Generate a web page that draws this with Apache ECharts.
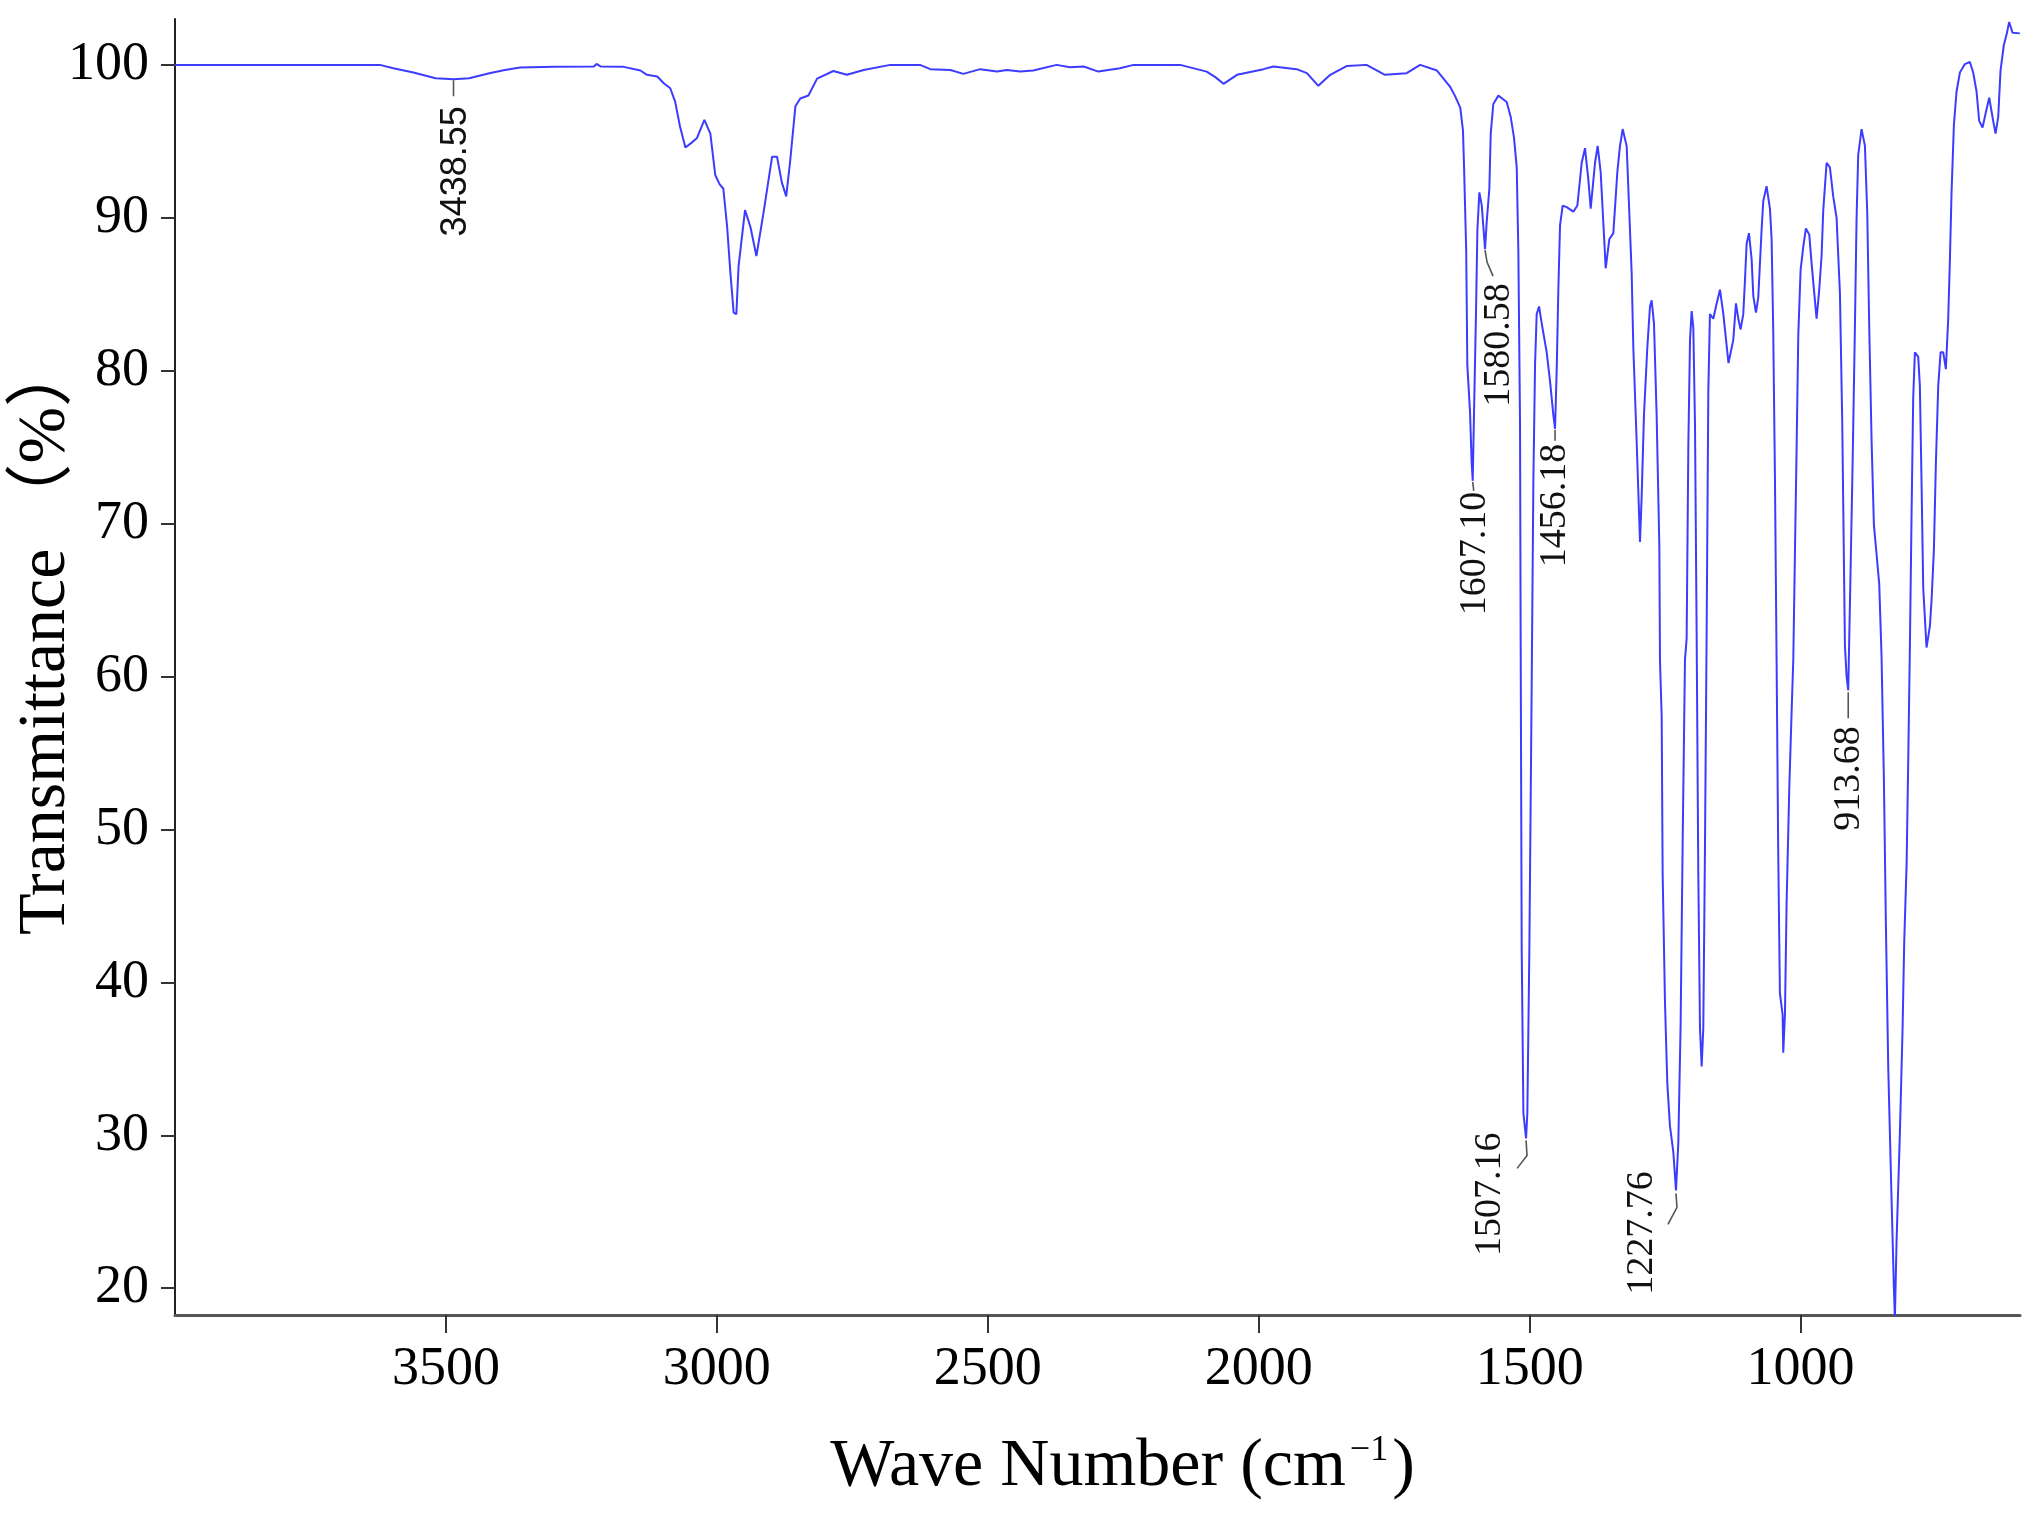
<!DOCTYPE html>
<html>
<head>
<meta charset="utf-8">
<script src="https://cdn.jsdelivr.net/npm/echarts@6/dist/echarts.min.js"></script>
<style>
html,body{margin:0;padding:0;background:#fff;}
#chart{width:2037px;height:1514px;}
</style>
</head>
<body>
<div id="chart"></div>
<script>
// ---- data ----
var waveNumbers = [
4000,3800,3650,3622,3597,3560,3519,3486,3457,3420,3391,3363,3300,3227,3222,3214,3172,3141,3129,3110,
3098,3086,3077,3068,3058,3047,3037,3023,3012,3003,2995,2988,2981,2975,2969,2964,2960,2948,2938,2927,
2914,2898,2889,2880,2872,2865,2855,2846,2831,2815,2785,2760,2729,2680,2625,2606,2569,2545,2514,2483,
2465,2440,2416,2373,2348,2323,2296,2256,2231,2145,2096,2080,2065,2040,1991,1973,1930,1911,1890,1868,
1837,1801,1767,1727,1702,1671,1647,1638,1628,1623,1621,1617,1615,1610,1607,1605,1602.6,1599,1596.4,1592.8,
1588.4,1582.3,1579.2,1574.3,1571.8,1567,1557.7,1542.3,1535,1528.8,1523.8,1520.8,1517.7,1516.5,1514.6,1511.5,
1506.6,1504.2,1500.5,1496.2,1493.1,1490,1487,1482.6,1477.7,1468.5,1462.3,1456.2,1453.1,1450,1447,1443.9,
1439,1431.6,1419.3,1411.9,1403.9,1397.8,1391.6,1387.3,1379.3,1374.4,1368.9,1364,1359.6,1352.9,1345.5,1338.1,
1333.2,1328.3,1320.9,1316,1311.7,1308.6,1302.5,1299.4,1296.3,1293.2,1289,1282.8,1277.9,1274.8,1270.5,1265.6,
1260.6,1259.4,1256.3,1254.5,1250.2,1245.9,1241,1234.8,1229.9,1225.6,1221.3,1217.6,1213.3,1210.2,1207.1,1204,
1201,1197.9,1194.8,1191.8,1188.7,1185.6,1182.5,1179.5,1176.4,1173.3,1170.2,1167.2,1161,1156.1,1148.7,1142.5,
1133,1124.2,1119.2,1114.9,1110.6,1105.7,1102.6,1099.5,1095.2,1090.3,1087.2,1082.3,1078,1071.9,1068.8,1062.7,
1056.5,1053.4,1050.4,1047.3,1044.2,1041.2,1038.1,1033.1,1031.9,1028.8,1025.8,1020.8,1016.5,1013.4,1010.4,1007.3,
1004.2,999.9,995,990.1,983.9,979.6,975.3,970.4,965.5,961.2,958.1,951.9,945.8,939.7,933.5,930.4,
927.3,923,918.1,915,912,908.9,904,899.7,896.6,893.6,887.4,881.2,876.9,873.2,868.9,864.6,
859.7,854.8,850.5,846.2,842.5,838.2,832.1,827.7,825.9,822.8,816.7,811.7,808.7,804.3,801.3,798.2,
795.1,792.1,789,782.8,779.8,776.7,773.6,767.5,761.3,758.2,753.9,750.2,745.9,741.6,736.7,731.8,
727.5,724.4,721.3,717,712.1,705.9,696.7,687.5,681.4,675.2,670.3,664.1,658,651.8,644.5,640.1,
635.2,630.9,624.8,619.8,615,608.8,595.3
];
var transmittance = [
100,100,100,100,99.78,99.5,99.13,99.06,99.13,99.45,99.67,99.83,99.88,99.89,100.06,99.89,99.87,99.63,99.35,99.24,
98.8,98.47,97.6,95.97,94.6,94.9,95.2,96.4,95.5,92.8,92.2,91.9,89.4,86.4,83.8,83.7,86.8,90.5,89.4,87.5,
90.3,94.0,94.0,92.3,91.4,93.6,97.3,97.8,98.0,99.1,99.6,99.35,99.67,100.0,100.0,99.72,99.67,99.41,99.72,99.56,
99.67,99.56,99.63,100.0,99.85,99.89,99.56,99.78,100.0,100.0,99.56,99.2,98.76,99.35,99.72,99.89,99.72,99.46,98.63,99.35,
99.93,100.0,99.35,99.46,100.0,99.63,98.58,97.99,97.2,95.7,93.3,87.8,80.4,77.3,74.0,72.8,77.3,83.7,89.2,91.66,
90.83,87.95,89.73,91.93,95.5,97.44,97.99,97.57,96.61,95.23,93.3,87.8,76.5,62,42.1,31.46,
29.8,31.46,42.1,59.5,72.7,80.4,83.7,84.2,83.1,81.2,79.3,77.1,76.2,80.1,85.3,89.5,
90.8,90.7,90.4,90.8,93.6,94.55,92.5,90.6,93.6,94.7,93.0,89.7,86.7,88.6,89.0,93.0,
94.7,95.8,94.7,90.3,86.4,81.5,75.4,72.1,68.8,71.8,77.1,81.5,84.2,84.6,83.1,77.1,
68.5,61,57.4,47.1,38.7,33.4,30.6,28.9,26.4,29.5,37.3,49.1,61.1,62.5,75.1,82.0,
83.9,82.8,76.5,63,47.1,37.0,34.5,37.0,48.8,63,78.7,83.7,83.4,84.2,85.3,83.7,
80.5,82.0,84.4,83.4,82.7,83.7,85.9,88.3,89.0,87.3,84.9,83.8,84.8,89.2,91.1,92.07,
90.6,88.6,82.6,73.2,61,48.5,39.3,37.9,35.4,37.9,45.1,52.7,57.7,61.1,68.0,74.9,
82.3,86.6,88.1,89.3,88.9,87.0,85.3,83.4,85.3,87.5,90.5,93.6,93.3,91.4,90.0,87.5,
85.05,76.5,62,60.0,59.1,64.7,73.8,82.8,90.0,94.1,95.8,94.7,90.3,82.8,75.4,69.9,
68.0,66.05,61.3,53.3,43.8,34.5,25.9,20.0,18.0,23.1,30.1,37.0,42.6,47.7,54.4,62,
70.7,78.2,81.2,80.9,79.0,72.7,65.8,61.9,63.3,65.0,68.3,74.0,79.0,81.2,81.2,80.1,
83.4,87.2,91.7,96.06,98.26,99.5,100.05,100.19,99.5,98.26,96.34,95.9,96.9,97.85,96.34,95.5,
96.6,99.64,101.3,101.98,102.8,102.1,102.06
];
var xTickValues = [1000, 1500, 2000, 2500, 3000, 3500];
var yTickValues = [20, 30, 40, 50, 60, 70, 80, 90, 100];
var peakLabels = ['3438.55', '1607.10', '1580.58', '1507.16', '1456.18', '1227.76', '913.68'];
var peakMarkWave = [3486, 1605, 1582.3, 1506.6, 1453.1, 1229.9, 912];

// ---- label layout (styles / pixel offsets relative to the peak) ----
var serif = "'Liberation Serif','Times New Roman',serif";
var sans = "'Liberation Sans',Arial,sans-serif";
var labelLayout = [
  {font: sans,  size: 36, dx: 3,   top: 27, leader: [[0, 1], [0, 17]]},
  {font: serif, size: 38, dx: 2,   top: 11, leader: [[0, 1], [1, 10]]},
  {font: serif, size: 38, dx: 14,  top: 34, leader: [[0, 1], [2, 13], [8, 27]]},
  {font: serif, size: 38, dx: -36, top: -6, leader: [[0, 2], [1, 17], [-9, 30]]},
  {font: serif, size: 38, dx: 0,   top: 15, leader: [[0, 1], [0, 12]]},
  {font: serif, size: 38, dx: -34, top: -19, leader: [[0, 3], [1, 17], [-8, 34]]},
  {font: serif, size: 38, dx: 1,   top: 36, leader: [[0, 2], [0, 28]]}
];

var spectrum = waveNumbers.map(function (w, i) { return [w, transmittance[i]]; });
var peakData = peakMarkWave.map(function (w, i) {
  var best = 0, bd = Infinity;
  for (var k = 0; k < waveNumbers.length; k++) {
    var d = Math.abs(waveNumbers[k] - w);
    if (d < bd) { bd = d; best = k; }
  }
  return [waveNumbers[best], transmittance[best], i];
});

var chart = echarts.init(document.getElementById('chart'), null, {renderer: 'canvas'});
var option = {
  animation: false,
  backgroundColor: '#fff',
  grid: {left: 175, right: 17, top: 19, bottom: 199, containLabel: false, outerBoundsMode: 'none'},
  xAxis: {
    type: 'value', inverse: true, min: 595, max: 4000,
    name: 'Wave Number (cm{sup|−1})',
    nameLocation: 'middle', nameGap: 118, nameMoveOverlap: false,
    nameTextStyle: {
      fontFamily: serif, fontSize: 68, color: '#000', padding: [0, 0, 0, 50],
      rich: {sup: {fontFamily: serif, fontSize: 36, color: '#000', verticalAlign: 'top', padding: [0, 4, 32, 4]}}
    },
    axisLine: {show: true, onZero: false, lineStyle: {color: '#555', width: 3}},
    axisTick: {show: true, inside: false, length: 18, customValues: xTickValues, lineStyle: {color: '#333', width: 2}},
    axisLabel: {show: true, customValues: xTickValues, fontFamily: serif, fontSize: 54, color: '#000', margin: 28,
      formatter: function (v) { return String(v); }},
    splitLine: {show: false}
  },
  yAxis: {
    type: 'value', min: 18.25, max: 103,
    name: 'Transmittance （%）',
    nameLocation: 'middle', nameRotate: 90, nameGap: 95, nameMoveOverlap: false,
    nameTextStyle: {fontFamily: "'Liberation Serif','Noto Sans CJK SC',serif", fontSize: 68, color: '#000', padding: [0, 0, 0, 60]},
    axisLine: {show: true, onZero: false, lineStyle: {color: '#222', width: 2}},
    axisTick: {show: true, inside: false, length: 14, customValues: yTickValues, lineStyle: {color: '#333', width: 2}},
    axisLabel: {show: true, customValues: yTickValues, fontFamily: serif, fontSize: 54, color: '#000', margin: 26,
      formatter: function (v) { return String(v); }},
    splitLine: {show: false}
  },
  series: [
    {
      type: 'line', data: spectrum, showSymbol: false, symbol: 'none', clip: true,
      lineStyle: {color: '#3c3cff', width: 2}, z: 3
    },
    {
      type: 'custom', data: peakData, clip: false, z: 4,
      encode: {x: 0, y: 1},
      renderItem: function (params, api) {
        var p = api.coord([api.value(0), api.value(1)]);
        var L = labelLayout[api.value(2)];
        var pts = L.leader.map(function (o) { return [p[0] + o[0], p[1] + o[1]]; });
        return {
          type: 'group',
          children: [
            {type: 'polyline', shape: {points: pts}, style: {stroke: '#555', lineWidth: 1.6, fill: null}},
            {
              type: 'text', x: p[0] + L.dx, y: p[1] + L.top, rotation: Math.PI / 2,
              style: {text: peakLabels[api.value(2)], x: 0, y: 0, align: 'right', verticalAlign: 'middle',
                      fontFamily: L.font, fontSize: L.size, fill: '#111'}
            }
          ]
        };
      }
    }
  ]
};
chart.setOption(option);
</script>
</body>
</html>
